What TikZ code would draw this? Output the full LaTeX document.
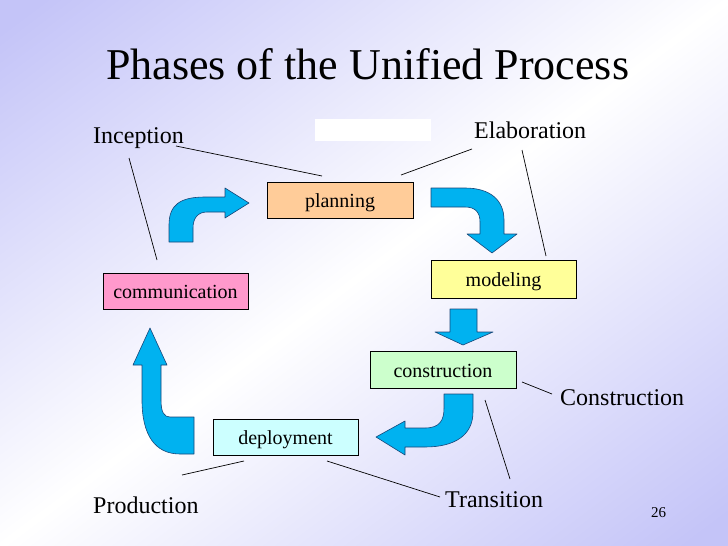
\documentclass[tikz,border=0pt]{standalone}
\usepackage{fontspec}
\setmainfont{Liberation Serif}
\usetikzlibrary{shadings}
\definecolor{bgA}{RGB}{196,196,248}
\pgfdeclareverticalshading{bgdiag}{100bp}{color(0bp)=(bgA); color(17bp)=(bgA); color(50bp)=(white); color(83bp)=(bgA); color(100bp)=(bgA)}
\definecolor{cPlan}{RGB}{255,204,153}
\definecolor{cModel}{RGB}{255,255,153}
\definecolor{cCons}{RGB}{204,255,204}
\definecolor{cComm}{RGB}{255,153,204}
\definecolor{cDep}{RGB}{204,255,255}
\definecolor{arrFill}{RGB}{0,178,240}
\definecolor{arrLine}{RGB}{25,70,120}
\tikzset{
  phasebox/.style={draw=black, line width=0.8pt, rectangle, inner sep=0pt, text height=17pt, text depth=2pt, font=\fontsize{20}{24}\selectfont},
  phaselabel/.style={font=\fontsize{24}{28}\selectfont, anchor=base west, inner sep=0pt},
  leader/.style={draw=black, line width=0.7pt},
  bigarrow/.style={fill=arrFill, draw=arrLine, line width=0.6pt, line join=round},
}
\begin{document}
\begin{tikzpicture}[x=1pt,y=-1pt]
\useasboundingbox (0,0) rectangle (728,546);
\shade[shading=bgdiag, shading angle=36.87] (0,0) rectangle (728,546);
\fill[white] (315,119) rectangle (431,141);

% title
\node[font=\fontsize{44}{50}\selectfont, anchor=base west, inner sep=0pt] (title) at (106,79) {Phases of the Unified Process};

% boxes
\node[phasebox, fill=cPlan, minimum width=146pt, minimum height=36pt] (plan) at (340,200) {planning};
\node[phasebox, fill=cModel, minimum width=145pt, minimum height=38pt] (model) at (503.5,279) {modeling};
\node[phasebox, fill=cCons, minimum width=146pt, minimum height=37pt] (cons) at (443,369.5) {construction};
\node[phasebox, fill=cComm, minimum width=145pt, minimum height=36pt] (comm) at (175.5,291) {communication};
\node[phasebox, fill=cDep, minimum width=145pt, minimum height=36pt] (dep) at (285.5,437) {deployment};

% labels
\node[phaselabel] (inc) at (93,143) {Inception};
\node[phaselabel] (ela) at (474,138) {Elaboration};
\node[phaselabel] (conl) at (560,405) {Construction};
\node[phaselabel] (prod) at (93,513) {Production};
\node[phaselabel] (tra) at (445,507) {Transition};
\node[font=\fontsize{15}{18}\selectfont, anchor=base west, inner sep=0pt] (pg) at (651,517) {26};

% leader line end points
\coordinate (incA) at (176,146);
\coordinate (incB) at (322,176);
\coordinate (incC) at (129,158);
\coordinate (incD) at (157,260);
\coordinate (elaA) at (472,149);
\coordinate (elaB) at (401,175);
\coordinate (elaC) at (522,150);
\coordinate (elaD) at (546,256);
\coordinate (conA) at (522,382);
\coordinate (conB) at (552,394);
\coordinate (traA) at (485,400);
\coordinate (traB) at (510,479);
\coordinate (traC) at (327,461);
\coordinate (traD) at (440,497);
\coordinate (proA) at (182,475);
\coordinate (proB) at (244,461);

\draw[leader] (incA) -- (incB);
\draw[leader] (incC) -- (incD);
\draw[leader] (elaA) -- (elaB);
\draw[leader] (elaC) -- (elaD);
\draw[leader] (conA) -- (conB);
\draw[leader] (traA) -- (traB);
\draw[leader] (traC) -- (traD);
\draw[leader] (proA) -- (proB);

% block arrows
% communication -> planning
\draw[bigarrow] (169,242) -- (169,225) .. controls (169,205) and (180,197) .. (205,197)
  -- (225,197) -- (225,188) -- (249,203) -- (225,218) -- (225,212) -- (207,212)
  .. controls (198,212) and (193,218) .. (193,228) -- (193,242) -- cycle;
% planning -> modeling
\draw[bigarrow] (431,188) -- (465,188) .. controls (490,188) and (504,200) .. (504,220)
  -- (504,234) -- (517,234) -- (492,253) -- (467,234) -- (480,234) -- (480,222)
  .. controls (480,212) and (475,207) .. (465,207) -- (431,207) -- cycle;
% modeling -> construction
\draw[bigarrow] (450,309) -- (477,309) -- (477,332) -- (493,332) -- (463,345) -- (435,332) -- (450,332) -- cycle;
% construction -> deployment
\draw[bigarrow] (444,394) -- (473,394) -- (473,412) .. controls (473,435) and (455,447) .. (425,447)
  -- (405,447) -- (405,455) -- (376,437) -- (405,421) -- (405,428) -- (425,428)
  .. controls (440,428) and (444,420) .. (444,408) -- cycle;
% deployment -> communication
\draw[bigarrow] (194,454) -- (194,417) -- (170,417) .. controls (164,417) and (161,412) .. (161,400)
  -- (161,365) -- (167,365) -- (150,328) -- (133,365) -- (142,365) -- (142,400)
  .. controls (142,435) and (155,454) .. (180,454) -- cycle;
\end{tikzpicture}
\end{document}
